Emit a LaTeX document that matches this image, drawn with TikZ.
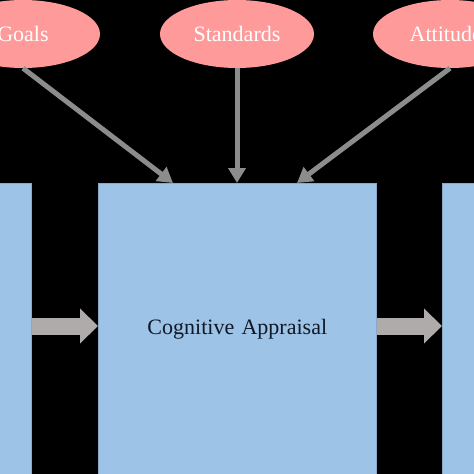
\documentclass[tikz,border=0pt]{standalone}
\usepackage{fontspec}
\setmainfont{Liberation Serif}
\usetikzlibrary{shapes.geometric,arrows.meta,calc}
\definecolor{bgblack}{HTML}{000000}
\definecolor{pinkfill}{HTML}{FF9A9A}
\definecolor{boxblue}{HTML}{9DC3E6}
\definecolor{boxedge}{HTML}{8AA9C8}
\definecolor{thingray}{HTML}{8C8C8C}
\definecolor{blockgray}{HTML}{AFABAB}
\definecolor{darktext}{HTML}{101828}
\tikzset{
  factor/.style={ellipse, fill=pinkfill, text=white, minimum width=154pt, minimum height=68pt, inner sep=0pt, font=\fontsize{22}{26}\selectfont},
  bluebox/.style={rectangle, fill=boxblue, draw=boxedge, line width=0.6pt, inner sep=0pt},
  influence/.style={draw=thingray, line width=5pt, -{Triangle[length=15pt,width=17pt]}},
  flow/.style={draw=blockgray, line width=17pt, -{Triangle[length=18pt,width=34pt]}}
}
\begin{document}
\begin{tikzpicture}[x=1pt,y=-1pt]
\useasboundingbox (0,0) rectangle (474,474);
\fill[bgblack] (0,0) rectangle (474,474);
\clip (0,0) rectangle (474,474);
% boxes
\node[bluebox, minimum width=132pt, minimum height=310pt, anchor=north east] (left) at (32,183) {};
\node[bluebox, minimum width=132pt, minimum height=310pt, anchor=north west] (right) at (442,183) {};
\node[bluebox, text=darktext, text width=278pt, align=center, text height=151pt, text depth=158pt, anchor=north west, font=\fontsize{22}{26}\selectfont] (ca) at (98,183) {Cognitive Appraisal};
% ellipses
\node[factor] (goals) at (23,34) {Goals};
\node[factor] (std) at (237,34) {Standards};
\node[factor] (att) at (450,34) {Attitudes};
% influences
\draw[influence] (goals.south) -- ($(ca.north west)+(75,0)$);
\draw[influence] (std.south) -- (std.south |- ca.north);
\draw[influence] (att.south) -- ($(ca.north west)+(199,0)$);
% flows
\coordinate (mid) at (237,326);
\draw[flow] (left.east |- mid) -- (ca.west |- mid);
\draw[flow] (ca.east |- mid) -- (right.west |- mid);
\end{tikzpicture}
\end{document}
